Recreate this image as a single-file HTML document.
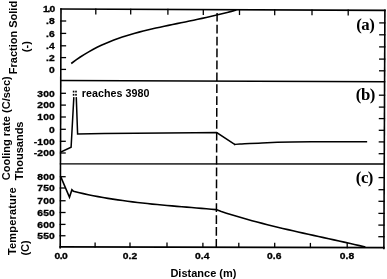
<!DOCTYPE html>
<html><head><meta charset="utf-8"><title>Figure</title>
<style>
html,body{margin:0;padding:0;background:#fff;}
body{width:387px;height:279px;overflow:hidden;}
svg{display:block;}
.tick text{font-family:"Liberation Sans",Arial,sans-serif;font-weight:bold;font-size:10.3px;letter-spacing:0.1px;stroke:#000;stroke-width:0.35px;}
.ttl text{font-family:"Liberation Sans",Arial,sans-serif;font-weight:bold;font-size:11px;}
.ttl text.note{font-size:10.7px;}
.pl text{font-family:"Liberation Serif","Times New Roman",serif;font-weight:bold;font-size:16.8px;letter-spacing:-0.5px;}
</style></head>
<body>
<svg width="387" height="279" viewBox="0 0 387 279">
<g stroke="#000" stroke-linecap="square" fill="none">
<line x1="61.00" y1="9.05" x2="384.89" y2="10.40" stroke-width="1.6"/>
<line x1="60.20" y1="246.90" x2="383.90" y2="247.60" stroke-width="1.6"/>
<line x1="61.00" y1="9.05" x2="60.20" y2="247.70" stroke-width="1.6"/>
<line x1="384.89" y1="10.40" x2="383.89" y2="248.40" stroke-width="1.6"/>
<line x1="60.76" y1="80.50" x2="384.59" y2="81.80" stroke-width="1.4"/>
<line x1="60.48" y1="163.90" x2="384.25" y2="163.95" stroke-width="1.4"/>
<line x1="60.96" y1="21.00" x2="65.56" y2="21.00" stroke-width="1.3"/>
<line x1="60.92" y1="33.40" x2="65.52" y2="33.40" stroke-width="1.3"/>
<line x1="60.88" y1="45.80" x2="65.48" y2="45.80" stroke-width="1.3"/>
<line x1="60.84" y1="57.60" x2="65.44" y2="57.60" stroke-width="1.3"/>
<line x1="60.80" y1="69.40" x2="65.40" y2="69.40" stroke-width="1.3"/>
<line x1="60.72" y1="93.30" x2="65.32" y2="93.30" stroke-width="1.3"/>
<line x1="60.68" y1="105.10" x2="65.28" y2="105.10" stroke-width="1.3"/>
<line x1="60.64" y1="117.00" x2="65.24" y2="117.00" stroke-width="1.3"/>
<line x1="60.60" y1="129.30" x2="65.20" y2="129.30" stroke-width="1.3"/>
<line x1="60.56" y1="141.30" x2="65.16" y2="141.30" stroke-width="1.3"/>
<line x1="60.52" y1="153.00" x2="65.12" y2="153.00" stroke-width="1.3"/>
<line x1="60.44" y1="176.70" x2="65.04" y2="176.70" stroke-width="1.3"/>
<line x1="60.40" y1="188.00" x2="65.00" y2="188.00" stroke-width="1.3"/>
<line x1="60.36" y1="200.75" x2="64.96" y2="200.75" stroke-width="1.3"/>
<line x1="60.32" y1="212.50" x2="64.92" y2="212.50" stroke-width="1.3"/>
<line x1="60.28" y1="224.40" x2="64.88" y2="224.40" stroke-width="1.3"/>
<line x1="60.24" y1="235.75" x2="64.84" y2="235.75" stroke-width="1.3"/>
<line x1="379.84" y1="22.90" x2="384.84" y2="22.90" stroke-width="1.3"/>
<line x1="379.79" y1="34.80" x2="384.79" y2="34.80" stroke-width="1.3"/>
<line x1="379.74" y1="46.90" x2="384.74" y2="46.90" stroke-width="1.3"/>
<line x1="379.69" y1="59.10" x2="384.69" y2="59.10" stroke-width="1.3"/>
<line x1="379.64" y1="70.80" x2="384.64" y2="70.80" stroke-width="1.3"/>
<line x1="379.54" y1="95.20" x2="384.54" y2="95.20" stroke-width="1.3"/>
<line x1="379.49" y1="107.10" x2="384.49" y2="107.10" stroke-width="1.3"/>
<line x1="379.44" y1="118.60" x2="384.44" y2="118.60" stroke-width="1.3"/>
<line x1="379.39" y1="130.30" x2="384.39" y2="130.30" stroke-width="1.3"/>
<line x1="379.34" y1="141.90" x2="384.34" y2="141.90" stroke-width="1.3"/>
<line x1="379.29" y1="153.70" x2="384.29" y2="153.70" stroke-width="1.3"/>
<line x1="379.19" y1="177.60" x2="384.19" y2="177.60" stroke-width="1.3"/>
<line x1="379.14" y1="189.70" x2="384.14" y2="189.70" stroke-width="1.3"/>
<line x1="379.09" y1="201.30" x2="384.09" y2="201.30" stroke-width="1.3"/>
<line x1="379.04" y1="213.40" x2="384.04" y2="213.40" stroke-width="1.3"/>
<line x1="378.99" y1="225.10" x2="383.99" y2="225.10" stroke-width="1.3"/>
<line x1="378.94" y1="236.70" x2="383.94" y2="236.70" stroke-width="1.3"/>
<line x1="95.80" y1="9.20" x2="95.80" y2="13.80" stroke-width="1.3"/>
<line x1="130.70" y1="9.34" x2="130.70" y2="13.94" stroke-width="1.3"/>
<line x1="167.90" y1="9.50" x2="167.90" y2="14.10" stroke-width="1.3"/>
<line x1="203.30" y1="9.64" x2="203.30" y2="14.24" stroke-width="1.3"/>
<line x1="239.50" y1="9.80" x2="239.50" y2="14.40" stroke-width="1.3"/>
<line x1="274.70" y1="9.94" x2="274.70" y2="14.54" stroke-width="1.3"/>
<line x1="312.00" y1="10.10" x2="312.00" y2="14.70" stroke-width="1.3"/>
<line x1="348.20" y1="10.25" x2="348.20" y2="14.85" stroke-width="1.3"/>
<line x1="95.10" y1="246.97" x2="95.10" y2="243.07" stroke-width="1.3"/>
<line x1="130.00" y1="247.05" x2="130.00" y2="243.15" stroke-width="1.3"/>
<line x1="167.00" y1="247.13" x2="167.00" y2="243.23" stroke-width="1.3"/>
<line x1="202.90" y1="247.21" x2="202.90" y2="243.31" stroke-width="1.3"/>
<line x1="238.80" y1="247.29" x2="238.80" y2="243.39" stroke-width="1.3"/>
<line x1="274.70" y1="247.36" x2="274.70" y2="243.46" stroke-width="1.3"/>
<line x1="310.40" y1="247.44" x2="310.40" y2="243.54" stroke-width="1.3"/>
<line x1="347.20" y1="247.52" x2="347.20" y2="243.62" stroke-width="1.3"/>
<polyline points="71.90,63.01 76.10,59.91 80.29,57.02 84.49,54.33 88.69,51.82 92.89,49.49 97.08,47.31 101.28,45.29 105.48,43.40 109.68,41.64 113.87,40.01 118.07,38.47 122.27,37.04 126.47,35.70 130.66,34.43 134.86,33.24 139.06,32.11 143.26,31.04 147.45,30.02 151.65,29.03 155.85,28.09 160.05,27.17 164.24,26.27 168.44,25.39 172.64,24.52 176.84,23.65 181.03,22.79 185.23,21.93 189.43,21.05 193.63,20.17 197.82,19.28 202.02,18.37 206.22,17.44 210.42,16.49 214.61,15.52 218.81,14.53 223.01,13.51 227.21,12.46 231.40,11.39 235.60,10.30" fill="none" stroke-width="1.6" stroke-linejoin="miter"/>
<polyline points="61.00,151.90 71.10,147.30 73.80,97.90" fill="none" stroke-width="1.5" stroke-linejoin="miter"/>
<polyline points="76.30,97.90 77.60,133.90 104.00,133.50 135.00,133.30 195.00,132.70 216.70,132.60 234.80,144.40" fill="none" stroke-width="1.5" stroke-linejoin="miter"/>
<path d="M234.80,144.40 C235.67,144.35 235.47,144.35 240.00,144.10 C244.53,143.85 253.33,143.25 262.00,142.90 C270.67,142.55 282.33,142.18 292.00,142.00 C301.67,141.82 307.60,141.88 320.00,141.85 C332.40,141.82 358.67,141.81 366.40,141.80" fill="none" stroke-width="1.5"/>
<rect x="72.80" y="90.70" width="1.6" height="1.8" fill="#000" stroke="none"/>
<rect x="72.80" y="93.90" width="1.6" height="1.8" fill="#000" stroke="none"/>
<rect x="75.20" y="90.70" width="1.6" height="1.8" fill="#000" stroke="none"/>
<rect x="75.20" y="93.90" width="1.6" height="1.8" fill="#000" stroke="none"/>
<polyline points="61.00,177.40 69.50,197.20 71.90,189.80 73.50,191.34 78.42,192.52 83.34,193.63 88.26,194.69 93.18,195.68 98.10,196.62 103.02,197.51 107.94,198.35 112.87,199.14 117.79,199.88 122.71,200.58 127.63,201.25 132.55,201.88 137.47,202.47 142.39,203.03 147.31,203.57 152.23,204.08 157.15,204.56 162.07,205.03 166.99,205.48 171.91,205.91 176.83,206.33 181.76,206.75 186.68,207.15 191.60,207.56 196.52,207.96 201.44,208.36 206.36,208.77 211.28,209.18 216.20,209.61 221.32,211.57 226.43,213.20 231.55,214.78 236.67,216.32 241.79,217.81 246.90,219.26 252.02,220.66 257.14,222.03 262.26,223.37 267.37,224.67 272.49,225.95 277.61,227.19 282.72,228.42 287.84,229.62 292.96,230.80 298.08,231.96 303.19,233.11 308.31,234.25 313.43,235.38 318.54,236.51 323.66,237.63 328.78,238.75 333.90,239.87 339.01,241.00 344.13,242.13 349.25,243.28 354.37,244.43 359.48,245.60 364.60,246.79" fill="none" stroke-width="1.6" stroke-linejoin="miter"/>
<line x1="217.1" y1="12.9" x2="216.3" y2="247" stroke-width="1.5" stroke-dasharray="8.7 3.2" stroke-linecap="butt"/>
</g>
<g class="tick" fill="#000">
<text transform="translate(54.8,24.30) scale(1,0.88)" text-anchor="end">.8</text>
<text transform="translate(54.8,36.70) scale(1,0.88)" text-anchor="end">.6</text>
<text transform="translate(54.8,49.10) scale(1,0.88)" text-anchor="end">.4</text>
<text transform="translate(54.8,60.90) scale(1,0.88)" text-anchor="end">.2</text>
<text transform="translate(54.8,72.70) scale(1,0.88)" text-anchor="end">0</text>
<text transform="translate(54.8,96.60) scale(1,0.88)" text-anchor="end">300</text>
<text transform="translate(54.8,108.40) scale(1,0.88)" text-anchor="end">200</text>
<text transform="translate(54.8,120.30) scale(1,0.88)" text-anchor="end">100</text>
<text transform="translate(54.8,132.60) scale(1,0.88)" text-anchor="end">0</text>
<text transform="translate(54.8,144.60) scale(1,0.88)" text-anchor="end">-100</text>
<text transform="translate(54.8,156.30) scale(1,0.88)" text-anchor="end">-200</text>
<text transform="translate(54.8,180.00) scale(1,0.88)" text-anchor="end">800</text>
<text transform="translate(54.8,191.30) scale(1,0.88)" text-anchor="end">750</text>
<text transform="translate(54.8,204.05) scale(1,0.88)" text-anchor="end">700</text>
<text transform="translate(54.8,215.80) scale(1,0.88)" text-anchor="end">650</text>
<text transform="translate(54.8,227.70) scale(1,0.88)" text-anchor="end">600</text>
<text transform="translate(54.8,239.05) scale(1,0.88)" text-anchor="end">550</text>
<text transform="translate(54.2,12.0) scale(1,0.88)" text-anchor="end" style="letter-spacing:-1px">1.0</text>
<text transform="translate(60.9,259.0) scale(1,0.88)" text-anchor="middle" style="letter-spacing:-0.5px">0.0</text>
<text transform="translate(130.0,259.0) scale(1,0.88)" text-anchor="middle">0.2</text>
<text transform="translate(202.3,259.0) scale(1,0.88)" text-anchor="middle">0.4</text>
<text transform="translate(274.2,259.0) scale(1,0.88)" text-anchor="middle">0.6</text>
<text transform="translate(347.0,259.0) scale(1,0.88)" text-anchor="middle">0.8</text>
</g>
<g class="ttl" fill="#000">
<text transform="translate(17.0,74.2) rotate(-90)">Fraction Solid</text>
<text transform="translate(29.7,52.2) rotate(-90)">(-)</text>
<text transform="translate(9.8,180.2) rotate(-90)">Cooling rate (C/sec)</text>
<text transform="translate(23.2,180.2) rotate(-90)">Thousands</text>
<text transform="translate(16.4,255.0) rotate(-90)" textLength="67.6" lengthAdjust="spacing">Temperature</text>
<text transform="translate(28.6,255.6) rotate(-90)">(C)</text>
<text x="170.4" y="276.6">Distance (m)</text>
<text x="81.8" y="96.8" class="note" textLength="67.7" lengthAdjust="spacing">reaches 3980</text>
</g>
<g class="pl" fill="#000">
<text x="356.2" y="29.6">(a)</text>
<text x="355.8" y="99.8">(b)</text>
<text x="355.8" y="182.6">(c)</text>
</g>
</svg>
</body></html>
